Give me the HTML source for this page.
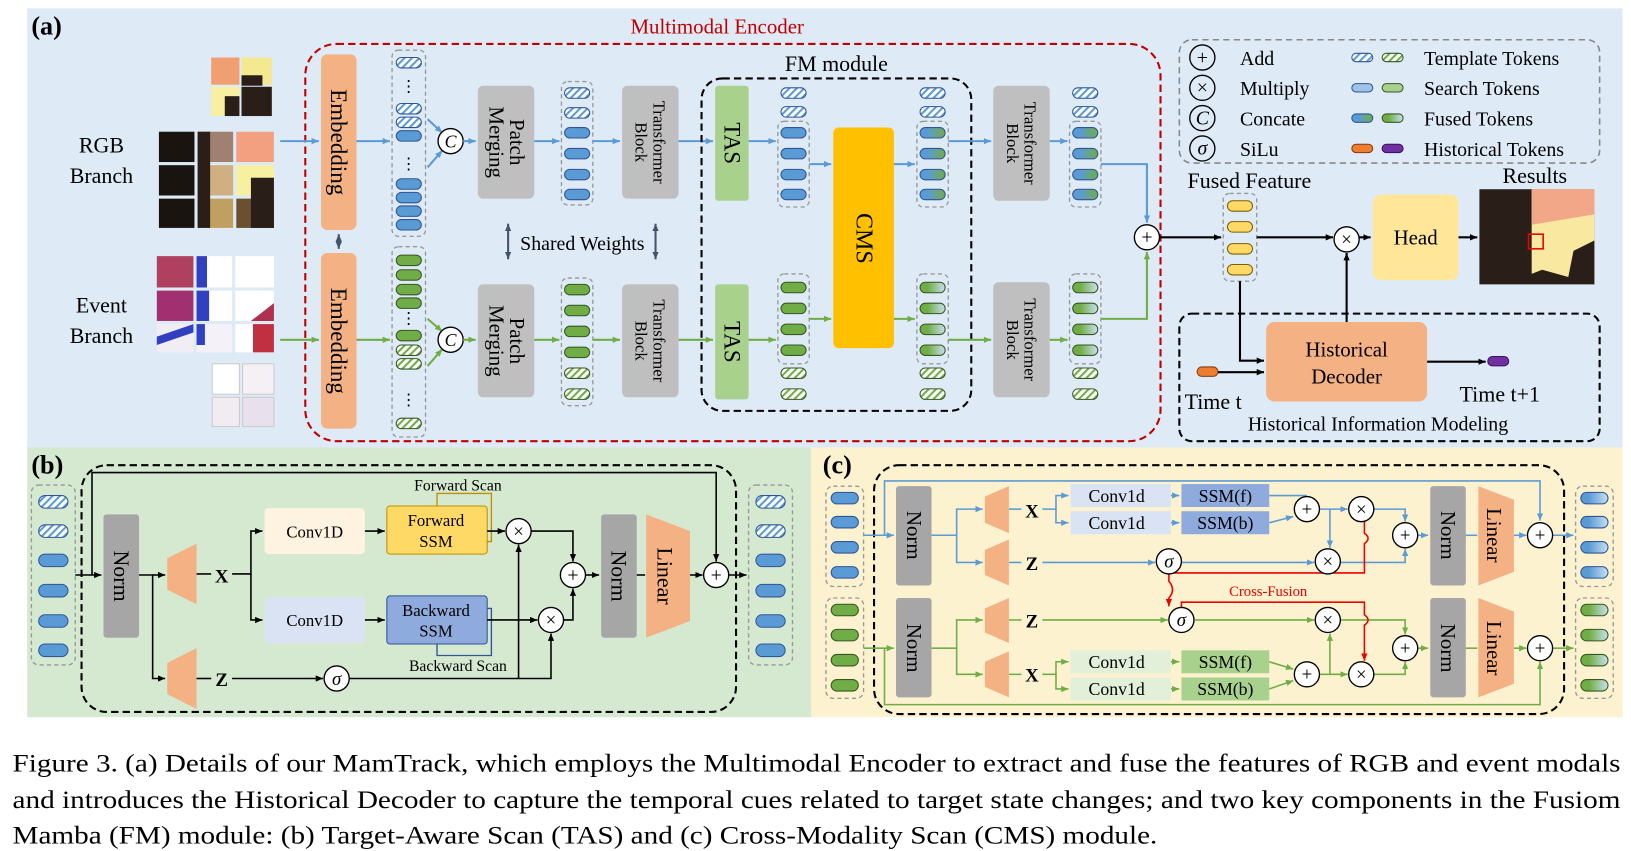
<!DOCTYPE html>
<html><head><meta charset="utf-8"><style>
html,body{margin:0;padding:0;background:#fff;}
svg{display:block;}
text{font-family:"Liberation Serif",serif;fill:#000;}
</style></head><body>
<svg width="1631" height="851" viewBox="0 0 1560 814" preserveAspectRatio="none" xmlns="http://www.w3.org/2000/svg">
<defs>
<pattern id="hb" width="5" height="5" patternUnits="userSpaceOnUse" patternTransform="rotate(45)"><rect width="5" height="5" fill="#fff"/><rect width="2" height="5" fill="#5b9bd5"/></pattern>
<pattern id="hg" width="5" height="5" patternUnits="userSpaceOnUse" patternTransform="rotate(45)"><rect width="5" height="5" fill="#fff"/><rect width="2" height="5" fill="#70ad47"/></pattern>
<linearGradient id="gbg"><stop offset="0.3" stop-color="#5b9bd5"/><stop offset="1" stop-color="#70ad47"/></linearGradient>
<linearGradient id="ggb"><stop offset="0.3" stop-color="#70ad47"/><stop offset="1" stop-color="#c9e0f0"/></linearGradient>
<linearGradient id="gbb"><stop offset="0.3" stop-color="#5b9bd5"/><stop offset="1" stop-color="#c9e0f0"/></linearGradient>
<symbol id="tb" overflow="visible"><rect width="24" height="10" rx="5" fill="#5b9bd5" stroke="#2f5597" stroke-width="1"/></symbol>
<symbol id="tg" overflow="visible"><rect width="24" height="10" rx="5" fill="#70ad47" stroke="#385723" stroke-width="1"/></symbol>
<symbol id="thb" overflow="visible"><rect width="24" height="10" rx="5" fill="url(#hb)" stroke="#2f5597" stroke-width="1"/></symbol>
<symbol id="thg" overflow="visible"><rect width="24" height="10" rx="5" fill="url(#hg)" stroke="#385723" stroke-width="1"/></symbol>
<symbol id="ty" overflow="visible"><rect width="24" height="10" rx="5" fill="#ffd966" stroke="#7f6000" stroke-width="1"/></symbol>
<symbol id="tbg" overflow="visible"><rect width="24" height="10" rx="5" fill="url(#gbg)" stroke="#2f5597" stroke-width="1"/></symbol>
<symbol id="tgb" overflow="visible"><rect width="24" height="10" rx="5" fill="url(#ggb)" stroke="#385723" stroke-width="1"/></symbol>
<symbol id="tbb" overflow="visible"><rect width="24" height="10" rx="5" fill="url(#gbb)" stroke="#2f5597" stroke-width="1"/></symbol>
<marker id="ab" markerWidth="8" markerHeight="8" refX="7" refY="4" orient="auto" markerUnits="userSpaceOnUse"><path d="M0,1 L7,4 L0,7z" fill="#5b9bd5"/></marker>
<marker id="ag" markerWidth="8" markerHeight="8" refX="7" refY="4" orient="auto" markerUnits="userSpaceOnUse"><path d="M0,1 L7,4 L0,7z" fill="#70ad47"/></marker>
<marker id="ak" markerWidth="8" markerHeight="8" refX="7" refY="4" orient="auto" markerUnits="userSpaceOnUse"><path d="M0,1 L7,4 L0,7z" fill="#000"/></marker>
<marker id="ar" markerWidth="8" markerHeight="8" refX="7" refY="4" orient="auto" markerUnits="userSpaceOnUse"><path d="M0,1 L7,4 L0,7z" fill="#e00"/></marker>
<marker id="as" markerWidth="8" markerHeight="8" refX="7" refY="4" orient="auto-start-reverse" markerUnits="userSpaceOnUse"><path d="M0,1 L7,4 L0,7z" fill="#44546a"/></marker>
</defs>

<!-- backgrounds -->
<rect x="26" y="8" width="1526" height="420" fill="#deeaf6"/>
<rect x="26" y="428" width="750" height="258" fill="#d5e8d0"/>
<rect x="776" y="428" width="776" height="258" fill="#fdf2cf"/>

<!-- ============ (a) ============ -->
<text x="30" y="33" font-size="25" font-weight="bold">(a)</text>
<text x="97" y="146" font-size="21" text-anchor="middle">RGB</text>
<text x="97" y="175" font-size="21" text-anchor="middle">Branch</text>
<text x="97" y="299" font-size="21" text-anchor="middle">Event</text>
<text x="97" y="328" font-size="21" text-anchor="middle">Branch</text>

<!-- RGB images -->
<g>
<rect x="202" y="55" width="27" height="26" fill="#f0a070"/><rect x="231" y="55" width="29" height="26" fill="#f4e890"/>
<rect x="202" y="83" width="27" height="28" fill="#f6f0a0"/><rect x="231" y="83" width="29" height="28" fill="#2a1e18"/>
<rect x="215" y="92" width="14" height="19" fill="#2a1e18"/><rect x="231" y="72" width="20" height="10" fill="#2a1e18"/>
<rect x="152" y="126" width="34" height="29" fill="#1a1410"/><rect x="189" y="126" width="34" height="29" fill="#a08070"/><rect x="226" y="126" width="36" height="29" fill="#f2a080"/>
<rect x="152" y="158" width="34" height="29" fill="#1a1410"/><rect x="189" y="158" width="34" height="29" fill="#d0b080"/><rect x="226" y="158" width="36" height="29" fill="#f6f0a0"/>
<rect x="152" y="190" width="34" height="28" fill="#1a1410"/><rect x="189" y="190" width="34" height="28" fill="#c0a060"/><rect x="226" y="190" width="36" height="28" fill="#6a5030"/>
<rect x="189" y="126" width="12" height="92" fill="#2a1e18"/><rect x="240" y="170" width="22" height="48" fill="#2a1e18"/>
</g>
<!-- Event images -->
<g>
<rect x="150" y="245" width="35" height="30" fill="#b04060"/><rect x="188" y="245" width="34" height="30" fill="#fff"/><rect x="225" y="245" width="37" height="30" fill="#fff"/>
<rect x="188" y="245" width="10" height="30" fill="#3040c0"/>
<rect x="150" y="278" width="35" height="29" fill="#a03070"/><rect x="188" y="278" width="34" height="29" fill="#fff"/><rect x="225" y="278" width="37" height="29" fill="#fff"/>
<rect x="188" y="278" width="12" height="29" fill="#3040c0"/><path d="M240,307 L262,290 L262,307z" fill="#b03050"/>
<rect x="150" y="310" width="35" height="27" fill="#f0eef4"/><rect x="188" y="310" width="34" height="27" fill="#f4f2f8"/><rect x="225" y="310" width="37" height="27" fill="#fff"/>
<path d="M150,322 L185,310 L185,318 L150,330z" fill="#3040c0"/><rect x="188" y="310" width="8" height="20" fill="#3040c0"/><rect x="242" y="310" width="20" height="27" fill="#c03040"/>
<rect x="203" y="348" width="26" height="29" fill="#fff" stroke="#ccc"/><rect x="232" y="348" width="30" height="29" fill="#f4f0f4" stroke="#ccc"/>
<rect x="203" y="380" width="26" height="28" fill="#f0ecf2" stroke="#ccc"/><rect x="232" y="380" width="30" height="28" fill="#e8e0ec" stroke="#ccc"/>
</g>

<!-- Multimodal encoder frame -->
<rect x="292" y="42" width="818" height="380" rx="30" fill="none" stroke="#c00000" stroke-width="2" stroke-dasharray="7,4"/>
<text x="686" y="32" font-size="20" fill="#c00000" text-anchor="middle" style="fill:#c00000">Multimodal Encoder</text>

<!-- arrows into embedding -->
<line x1="268" y1="135" x2="305" y2="135" stroke="#5b9bd5" stroke-width="2" marker-end="url(#ab)"/>
<line x1="268" y1="325" x2="305" y2="325" stroke="#70ad47" stroke-width="2" marker-end="url(#ag)"/>
<!-- Embedding -->
<rect x="307" y="52" width="34" height="168" rx="6" fill="#f4b183"/>
<rect x="307" y="242" width="34" height="168" rx="6" fill="#f4b183"/>
<text transform="translate(324,136) rotate(90)" font-size="22" text-anchor="middle" dominant-baseline="central">Embedding</text>
<text transform="translate(324,326) rotate(90)" font-size="22" text-anchor="middle" dominant-baseline="central">Embedding</text>
<line x1="324" y1="224" x2="324" y2="238" stroke="#44546a" stroke-width="2" marker-start="url(#as)" marker-end="url(#as)"/>
<line x1="341" y1="135" x2="373" y2="135" stroke="#5b9bd5" stroke-width="2" marker-end="url(#ab)"/>
<line x1="341" y1="325" x2="373" y2="325" stroke="#70ad47" stroke-width="2" marker-end="url(#ag)"/>

<!-- token col 1 -->
<rect x="375" y="48" width="32" height="178" rx="6" fill="none" stroke="#999" stroke-width="1.3" stroke-dasharray="4,3"/>
<use href="#thb" x="379" y="55"/><text x="391" y="88" font-size="16" text-anchor="middle">⋮</text>
<use href="#thb" x="379" y="99"/><use href="#thb" x="379" y="112"/><use href="#tb" x="379" y="125"/>
<text x="391" y="162" font-size="16" text-anchor="middle">⋮</text>
<use href="#tb" x="379" y="171"/><use href="#tb" x="379" y="184"/><use href="#tb" x="379" y="197"/><use href="#tb" x="379" y="210"/>
<rect x="375" y="236" width="32" height="182" rx="6" fill="none" stroke="#999" stroke-width="1.3" stroke-dasharray="4,3"/>
<use href="#tg" x="379" y="244"/><use href="#tg" x="379" y="258"/><use href="#tg" x="379" y="272"/><use href="#tg" x="379" y="285"/>
<text x="391" y="310" font-size="16" text-anchor="middle">⋮</text>
<use href="#tg" x="379" y="316"/><use href="#thg" x="379" y="330"/><use href="#thg" x="379" y="343"/>
<text x="391" y="388" font-size="16" text-anchor="middle">⋮</text>
<use href="#thg" x="379" y="400"/>

<!-- concat -->
<line x1="409" y1="114" x2="423" y2="127" stroke="#5b9bd5" stroke-width="2" marker-end="url(#ab)"/>
<line x1="409" y1="160" x2="423" y2="144" stroke="#5b9bd5" stroke-width="2" marker-end="url(#ab)"/>
<circle cx="431" cy="135" r="12" fill="#fff" stroke="#000" stroke-width="1.3"/><text x="431" y="141" font-size="17" font-style="italic" text-anchor="middle">C</text>
<line x1="409" y1="305" x2="423" y2="317" stroke="#70ad47" stroke-width="2" marker-end="url(#ag)"/>
<line x1="409" y1="350" x2="423" y2="334" stroke="#70ad47" stroke-width="2" marker-end="url(#ag)"/>
<circle cx="431" cy="325" r="12" fill="#fff" stroke="#000" stroke-width="1.3"/><text x="431" y="331" font-size="17" font-style="italic" text-anchor="middle">C</text>
<line x1="443" y1="135" x2="455" y2="135" stroke="#5b9bd5" stroke-width="2" marker-end="url(#ab)"/>
<line x1="443" y1="325" x2="455" y2="325" stroke="#70ad47" stroke-width="2" marker-end="url(#ag)"/>

<!-- Patch Merging -->
<rect x="457" y="82" width="54" height="108" rx="5" fill="#bfbfbf"/>
<rect x="457" y="272" width="54" height="108" rx="5" fill="#bfbfbf"/>
<text transform="translate(484,136) rotate(90)" font-size="20" text-anchor="middle"><tspan x="0" y="-4">Patch</tspan><tspan x="0" y="16">Merging</tspan></text>
<text transform="translate(484,326) rotate(90)" font-size="20" text-anchor="middle"><tspan x="0" y="-4">Patch</tspan><tspan x="0" y="16">Merging</tspan></text>
<line x1="511" y1="135" x2="535" y2="135" stroke="#5b9bd5" stroke-width="2" marker-end="url(#ab)"/>
<line x1="511" y1="325" x2="535" y2="325" stroke="#70ad47" stroke-width="2" marker-end="url(#ag)"/>

<!-- col 2 -->
<rect x="537" y="78" width="30" height="118" rx="6" fill="none" stroke="#999" stroke-width="1.3" stroke-dasharray="4,3"/>
<use href="#thb" x="540" y="84"/><use href="#thb" x="540" y="103"/><use href="#tb" x="540" y="122"/><use href="#tb" x="540" y="142"/><use href="#tb" x="540" y="162"/><use href="#tb" x="540" y="181"/>
<rect x="537" y="266" width="30" height="122" rx="6" fill="none" stroke="#999" stroke-width="1.3" stroke-dasharray="4,3"/>
<use href="#tg" x="540" y="272"/><use href="#tg" x="540" y="292"/><use href="#tg" x="540" y="312"/><use href="#tg" x="540" y="332"/><use href="#thg" x="540" y="352"/><use href="#thg" x="540" y="372"/>
<line x1="567" y1="135" x2="593" y2="135" stroke="#5b9bd5" stroke-width="2" marker-end="url(#ab)"/>
<line x1="567" y1="325" x2="593" y2="325" stroke="#70ad47" stroke-width="2" marker-end="url(#ag)"/>

<!-- Shared weights -->
<line x1="486" y1="214" x2="486" y2="248" stroke="#44546a" stroke-width="2" marker-start="url(#as)" marker-end="url(#as)"/>
<line x1="627" y1="214" x2="627" y2="248" stroke="#44546a" stroke-width="2" marker-start="url(#as)" marker-end="url(#as)"/>
<text x="557" y="239" font-size="19" text-anchor="middle">Shared Weights</text>

<!-- Transformer block -->
<rect x="595" y="82" width="54" height="108" rx="5" fill="#bfbfbf"/>
<rect x="595" y="272" width="54" height="108" rx="5" fill="#bfbfbf"/>
<text transform="translate(622,136) rotate(90)" font-size="16" text-anchor="middle"><tspan x="0" y="-3">Transformer</tspan><tspan x="0" y="14">Block</tspan></text>
<text transform="translate(622,326) rotate(90)" font-size="16" text-anchor="middle"><tspan x="0" y="-3">Transformer</tspan><tspan x="0" y="14">Block</tspan></text>
<line x1="649" y1="135" x2="682" y2="135" stroke="#5b9bd5" stroke-width="2" marker-end="url(#ab)"/>
<line x1="649" y1="325" x2="682" y2="325" stroke="#70ad47" stroke-width="2" marker-end="url(#ag)"/>

<!-- FM module -->
<rect x="671" y="75" width="258" height="318" rx="20" fill="none" stroke="#000" stroke-width="2" stroke-dasharray="7,4"/>
<text x="800" y="68" font-size="21" text-anchor="middle">FM module</text>
<rect x="684" y="82" width="32" height="110" rx="3" fill="#a9d18e"/>
<rect x="684" y="272" width="32" height="110" rx="3" fill="#a9d18e"/>
<text transform="translate(700,137) rotate(90)" font-size="22" text-anchor="middle" dominant-baseline="central">TAS</text>
<text transform="translate(700,327) rotate(90)" font-size="22" text-anchor="middle" dominant-baseline="central">TAS</text>
<line x1="716" y1="135" x2="742" y2="135" stroke="#5b9bd5" stroke-width="2" marker-end="url(#ab)"/>
<line x1="716" y1="325" x2="742" y2="325" stroke="#70ad47" stroke-width="2" marker-end="url(#ag)"/>

<use href="#thb" x="747" y="84"/><use href="#thb" x="747" y="102"/>
<rect x="744" y="116" width="30" height="82" rx="6" fill="none" stroke="#999" stroke-width="1.3" stroke-dasharray="4,3"/>
<use href="#tb" x="747" y="122"/><use href="#tb" x="747" y="142"/><use href="#tb" x="747" y="162"/><use href="#tb" x="747" y="181"/>
<rect x="744" y="262" width="30" height="86" rx="6" fill="none" stroke="#999" stroke-width="1.3" stroke-dasharray="4,3"/>
<use href="#tg" x="747" y="270"/><use href="#tg" x="747" y="290"/><use href="#tg" x="747" y="310"/><use href="#tg" x="747" y="330"/>
<use href="#thg" x="747" y="352"/><use href="#thg" x="747" y="372"/>
<line x1="774" y1="157" x2="795" y2="157" stroke="#5b9bd5" stroke-width="2" marker-end="url(#ab)"/>
<line x1="774" y1="305" x2="795" y2="305" stroke="#70ad47" stroke-width="2" marker-end="url(#ag)"/>

<rect x="797" y="122" width="58" height="211" rx="5" fill="#ffc000"/>
<text transform="translate(826,228) rotate(90)" font-size="23" text-anchor="middle" dominant-baseline="central">CMS</text>
<line x1="855" y1="157" x2="875" y2="157" stroke="#5b9bd5" stroke-width="2" marker-end="url(#ab)"/>
<line x1="855" y1="305" x2="875" y2="305" stroke="#70ad47" stroke-width="2" marker-end="url(#ag)"/>

<use href="#thb" x="880" y="84"/><use href="#thb" x="880" y="102"/>
<rect x="877" y="116" width="30" height="82" rx="6" fill="none" stroke="#999" stroke-width="1.3" stroke-dasharray="4,3"/>
<use href="#tbg" x="880" y="122"/><use href="#tbg" x="880" y="142"/><use href="#tbg" x="880" y="162"/><use href="#tbg" x="880" y="181"/>
<rect x="877" y="262" width="30" height="86" rx="6" fill="none" stroke="#999" stroke-width="1.3" stroke-dasharray="4,3"/>
<use href="#tgb" x="880" y="270"/><use href="#tgb" x="880" y="290"/><use href="#tgb" x="880" y="310"/><use href="#tgb" x="880" y="330"/>
<use href="#thg" x="880" y="352"/><use href="#thg" x="880" y="372"/>
<line x1="907" y1="135" x2="948" y2="135" stroke="#5b9bd5" stroke-width="2" marker-end="url(#ab)"/>
<line x1="907" y1="325" x2="948" y2="325" stroke="#70ad47" stroke-width="2" marker-end="url(#ag)"/>

<rect x="950" y="82" width="54" height="110" rx="5" fill="#bfbfbf"/>
<rect x="950" y="270" width="54" height="110" rx="5" fill="#bfbfbf"/>
<text transform="translate(977,137) rotate(90)" font-size="16" text-anchor="middle"><tspan x="0" y="-3">Transformer</tspan><tspan x="0" y="14">Block</tspan></text>
<text transform="translate(977,325) rotate(90)" font-size="16" text-anchor="middle"><tspan x="0" y="-3">Transformer</tspan><tspan x="0" y="14">Block</tspan></text>
<line x1="1004" y1="135" x2="1021" y2="135" stroke="#5b9bd5" stroke-width="2" marker-end="url(#ab)"/>
<line x1="1004" y1="325" x2="1021" y2="325" stroke="#70ad47" stroke-width="2" marker-end="url(#ag)"/>

<use href="#thb" x="1026" y="84"/><use href="#thb" x="1026" y="102"/>
<rect x="1023" y="116" width="30" height="82" rx="6" fill="none" stroke="#999" stroke-width="1.3" stroke-dasharray="4,3"/>
<use href="#tbg" x="1026" y="122"/><use href="#tbg" x="1026" y="142"/><use href="#tbg" x="1026" y="162"/><use href="#tbg" x="1026" y="181"/>
<rect x="1023" y="262" width="30" height="86" rx="6" fill="none" stroke="#999" stroke-width="1.3" stroke-dasharray="4,3"/>
<use href="#tgb" x="1026" y="270"/><use href="#tgb" x="1026" y="290"/><use href="#tgb" x="1026" y="310"/><use href="#tgb" x="1026" y="330"/>
<use href="#thg" x="1026" y="352"/><use href="#thg" x="1026" y="372"/>

<polyline points="1053,157 1097,157 1097,213" fill="none" stroke="#5b9bd5" stroke-width="2" marker-end="url(#ab)"/>
<polyline points="1053,305 1097,305 1097,241" fill="none" stroke="#70ad47" stroke-width="2" marker-end="url(#ag)"/>
<circle cx="1097" cy="227" r="12" fill="#fff" stroke="#000" stroke-width="1.3"/><text x="1097" y="233" font-size="19" text-anchor="middle">+</text>

<!-- legend -->
<rect x="1128" y="38" width="402" height="118" rx="12" fill="none" stroke="#888" stroke-width="1.5" stroke-dasharray="6,4"/>
<g font-size="19">
<circle cx="1150" cy="55" r="12" fill="none" stroke="#000" stroke-width="1.3"/><text x="1150" y="61" text-anchor="middle">+</text><text x="1186" y="62">Add</text>
<circle cx="1150" cy="84" r="12" fill="none" stroke="#000" stroke-width="1.3"/><text x="1150" y="90" text-anchor="middle">×</text><text x="1186" y="91">Multiply</text>
<circle cx="1150" cy="113" r="12" fill="none" stroke="#000" stroke-width="1.3"/><text x="1150" y="119" font-style="italic" text-anchor="middle">C</text><text x="1186" y="120">Concate</text>
<circle cx="1150" cy="142" r="12" fill="none" stroke="#000" stroke-width="1.3"/><text x="1150" y="148" font-style="italic" text-anchor="middle">σ</text><text x="1186" y="149">SiLu</text>
<text x="1362" y="62">Template Tokens</text><text x="1362" y="91">Search Tokens</text><text x="1362" y="120">Fused Tokens</text><text x="1362" y="149">Historical Tokens</text>
</g>
<rect x="1293" y="51" width="20" height="8" rx="4" fill="url(#hb)" stroke="#2f5597"/><rect x="1322" y="51" width="20" height="8" rx="4" fill="url(#hg)" stroke="#385723"/>
<rect x="1293" y="80" width="20" height="8" rx="4" fill="#9dc3e6" stroke="#2f5597"/><rect x="1322" y="80" width="20" height="8" rx="4" fill="#a9d18e" stroke="#385723"/>
<rect x="1293" y="109" width="20" height="8" rx="4" fill="url(#gbg)" stroke="#2f5597"/><rect x="1322" y="109" width="20" height="8" rx="4" fill="url(#ggb)" stroke="#385723"/>
<rect x="1293" y="138" width="20" height="8" rx="4" fill="#ed7d31" stroke="#843c0c"/><rect x="1322" y="138" width="20" height="8" rx="4" fill="#7030a0" stroke="#3a1060"/>

<!-- fused feature / head -->
<text x="1195" y="180" font-size="21" text-anchor="middle">Fused Feature</text>
<line x1="1109" y1="227" x2="1168" y2="227" stroke="#000" stroke-width="2" marker-end="url(#ak)"/>
<rect x="1170" y="185" width="32" height="84" rx="6" fill="none" stroke="#999" stroke-width="1.3" stroke-dasharray="4,3"/>
<use href="#ty" x="1174" y="192"/><use href="#ty" x="1174" y="212"/><use href="#ty" x="1174" y="233"/><use href="#ty" x="1174" y="253"/>
<line x1="1202" y1="227" x2="1275" y2="227" stroke="#000" stroke-width="2" marker-end="url(#ak)"/>
<circle cx="1288" cy="229" r="12" fill="#fff" stroke="#000" stroke-width="1.3"/><text x="1288" y="235" font-size="18" text-anchor="middle">×</text>
<line x1="1300" y1="227" x2="1311" y2="227" stroke="#000" stroke-width="2" marker-end="url(#ak)"/>
<rect x="1313" y="186" width="82" height="82" rx="8" fill="#ffe699"/>
<text x="1354" y="234" font-size="20" text-anchor="middle">Head</text>
<line x1="1395" y1="227" x2="1413" y2="227" stroke="#000" stroke-width="2" marker-end="url(#ak)"/>
<text x="1468" y="175" font-size="21" text-anchor="middle">Results</text>
<rect x="1415" y="181" width="110" height="91" fill="#2a1e18"/>
<path d="M1465,181 L1525,181 L1525,230 L1505,240 L1500,265 L1475,258 L1465,262z" fill="#f8e8a0"/>
<path d="M1465,181 L1525,181 L1525,205 L1465,215z" fill="#f2a888"/>
<rect x="1462" y="224" width="14" height="14" fill="none" stroke="#e00" stroke-width="1.5"/>

<!-- historical -->
<rect x="1128" y="300" width="402" height="122" rx="12" fill="none" stroke="#000" stroke-width="2" stroke-dasharray="7,4"/>
<polyline points="1186,269 1186,345 1209,345" fill="none" stroke="#000" stroke-width="2" marker-end="url(#ak)"/>
<line x1="1288" y1="308" x2="1288" y2="242" stroke="#000" stroke-width="2" marker-end="url(#ak)"/>
<rect x="1211" y="308" width="154" height="76" rx="8" fill="#f4b183"/>
<text x="1288" y="341" font-size="20" text-anchor="middle">Historical</text>
<text x="1288" y="367" font-size="20" text-anchor="middle">Decoder</text>
<rect x="1145" y="351" width="20" height="9" rx="4.5" fill="#ed7d31" stroke="#843c0c"/>
<line x1="1165" y1="356" x2="1209" y2="356" stroke="#000" stroke-width="2" marker-end="url(#ak)"/>
<line x1="1365" y1="346" x2="1421" y2="346" stroke="#000" stroke-width="2" marker-end="url(#ak)"/>
<rect x="1423" y="341" width="20" height="9" rx="4.5" fill="#7030a0" stroke="#3a1060"/>
<text x="1133" y="391" font-size="21">Time t</text>
<text x="1396" y="384" font-size="21">Time t+1</text>
<text x="1318" y="412" font-size="19" text-anchor="middle">Historical Information Modeling</text>

<!-- ============ (b) ============ -->
<text x="30" y="453" font-size="25" font-weight="bold">(b)</text>
<rect x="30" y="464" width="42" height="172" rx="7" fill="none" stroke="#999" stroke-width="1.3" stroke-dasharray="4,3"/>
<g transform="translate(0,0)">
<rect x="37" y="474" width="28" height="12" rx="6" fill="url(#hb)" stroke="#2f5597"/>
<rect x="37" y="502" width="28" height="12" rx="6" fill="url(#hb)" stroke="#2f5597"/>
<rect x="37" y="530" width="28" height="12" rx="6" fill="#5b9bd5" stroke="#2f5597"/>
<rect x="37" y="559" width="28" height="12" rx="6" fill="#5b9bd5" stroke="#2f5597"/>
<rect x="37" y="588" width="28" height="12" rx="6" fill="#5b9bd5" stroke="#2f5597"/>
<rect x="37" y="616" width="28" height="12" rx="6" fill="#5b9bd5" stroke="#2f5597"/>
</g>
<rect x="78" y="445" width="626" height="236" rx="24" fill="none" stroke="#000" stroke-width="2" stroke-dasharray="7,4"/>
<line x1="72" y1="550" x2="97" y2="550" stroke="#000" stroke-width="1.5" marker-end="url(#ak)"/>
<polyline points="88,550 88,452 685,452 685,537" fill="none" stroke="#000" stroke-width="1.5" marker-end="url(#ak)"/>
<rect x="99" y="492" width="34" height="118" rx="3" fill="#a6a6a6"/>
<text transform="translate(116,551) rotate(90)" font-size="21" text-anchor="middle" dominant-baseline="central">Norm</text>
<polyline points="133,550 146,550 146,649 158,649" fill="none" stroke="#000" stroke-width="1.5" marker-end="url(#ak)"/>
<line x1="146" y1="550" x2="158" y2="550" stroke="#000" stroke-width="1.5" marker-end="url(#ak)"/>
<path d="M160,534 L188,520 L188,578 L160,564z" fill="#f4b183"/>
<path d="M160,634 L188,620 L188,678 L160,664z" fill="#f4b183"/>
<text x="212" y="557" font-size="18" font-weight="bold" text-anchor="middle">X</text>
<text x="212" y="656" font-size="18" font-weight="bold" text-anchor="middle">Z</text>
<line x1="188" y1="549" x2="202" y2="549" stroke="#000" stroke-width="1.5"/>
<line x1="188" y1="649" x2="202" y2="649" stroke="#000" stroke-width="1.5"/>
<polyline points="222,549 240,549 240,508 251,508" fill="none" stroke="#000" stroke-width="1.5" marker-end="url(#ak)"/>
<polyline points="240,549 240,593 251,593" fill="none" stroke="#000" stroke-width="1.5" marker-end="url(#ak)"/>
<rect x="253" y="486" width="96" height="44" rx="4" fill="#fdf3e0"/>
<text x="301" y="514" font-size="16" text-anchor="middle">Conv1D</text>
<rect x="253" y="571" width="96" height="44" rx="4" fill="#dae3f3"/>
<text x="301" y="599" font-size="16" text-anchor="middle">Conv1D</text>
<line x1="349" y1="508" x2="368" y2="508" stroke="#000" stroke-width="1.5" marker-end="url(#ak)"/>
<line x1="349" y1="593" x2="368" y2="593" stroke="#000" stroke-width="1.5" marker-end="url(#ak)"/>
<rect x="370" y="484" width="96" height="46" rx="3" fill="#ffd966" stroke="#bf9000" stroke-width="1"/>
<text x="417" y="503" font-size="16" text-anchor="middle">Forward</text><text x="417" y="523" font-size="16" text-anchor="middle">SSM</text>
<rect x="370" y="570" width="96" height="46" rx="3" fill="#8faadc" stroke="#2f5597" stroke-width="1"/>
<text x="417" y="589" font-size="16" text-anchor="middle">Backward</text><text x="417" y="609" font-size="16" text-anchor="middle">SSM</text>
<polyline points="418,484 418,472 470,472 470,518 466,518" fill="none" stroke="#bf9000" stroke-width="1.3"/>
<polyline points="418,616 418,627 470,627 470,582 466,582" fill="none" stroke="#2f5597" stroke-width="1.3"/>
<text x="438" y="469" font-size="15" text-anchor="middle">Forward Scan</text>
<text x="438" y="642" font-size="15" text-anchor="middle">Backward Scan</text>
<line x1="466" y1="508" x2="483" y2="508" stroke="#000" stroke-width="1.5" marker-end="url(#ak)"/>
<line x1="466" y1="593" x2="514" y2="593" stroke="#000" stroke-width="1.5" marker-end="url(#ak)"/>
<circle cx="322" cy="649" r="12" fill="#fff" stroke="#000" stroke-width="1.3"/><text x="322" y="655" font-size="18" font-style="italic" text-anchor="middle">σ</text>
<line x1="222" y1="649" x2="309" y2="649" stroke="#000" stroke-width="1.5" marker-end="url(#ak)"/>
<polyline points="334,649 527,649 527,606" fill="none" stroke="#000" stroke-width="1.5" marker-end="url(#ak)"/>
<line x1="496" y1="649" x2="496" y2="521" stroke="#000" stroke-width="1.5" marker-end="url(#ak)"/>
<circle cx="496" cy="508" r="12" fill="#fff" stroke="#000" stroke-width="1.3"/><text x="496" y="514" font-size="18" text-anchor="middle">×</text>
<circle cx="527" cy="593" r="12" fill="#fff" stroke="#000" stroke-width="1.3"/><text x="527" y="599" font-size="18" text-anchor="middle">×</text>
<polyline points="508,508 548,508 548,537" fill="none" stroke="#000" stroke-width="1.5" marker-end="url(#ak)"/>
<polyline points="539,593 548,593 548,563" fill="none" stroke="#000" stroke-width="1.5" marker-end="url(#ak)"/>
<circle cx="548" cy="550" r="12" fill="#fff" stroke="#000" stroke-width="1.3"/><text x="548" y="556" font-size="19" text-anchor="middle">+</text>
<line x1="560" y1="550" x2="573" y2="550" stroke="#000" stroke-width="1.5" marker-end="url(#ak)"/>
<rect x="575" y="492" width="34" height="118" rx="3" fill="#a6a6a6"/>
<text transform="translate(592,551) rotate(90)" font-size="21" text-anchor="middle" dominant-baseline="central">Norm</text>
<line x1="609" y1="550" x2="617" y2="550" stroke="#000" stroke-width="1.5"/>
<path d="M618,492 L660,508 L660,594 L618,610z" fill="#f4b183"/>
<text transform="translate(636,551) rotate(90)" font-size="21" text-anchor="middle" dominant-baseline="central">Linear</text>
<line x1="660" y1="550" x2="672" y2="550" stroke="#000" stroke-width="1.5" marker-end="url(#ak)"/>
<circle cx="685" cy="550" r="12" fill="#fff" stroke="#000" stroke-width="1.3"/><text x="685" y="556" font-size="19" text-anchor="middle">+</text>
<line x1="697" y1="550" x2="714" y2="550" stroke="#000" stroke-width="1.5" marker-end="url(#ak)"/>
<rect x="716" y="464" width="42" height="172" rx="7" fill="none" stroke="#999" stroke-width="1.3" stroke-dasharray="4,3"/>
<rect x="723" y="474" width="28" height="12" rx="6" fill="url(#hb)" stroke="#2f5597"/>
<rect x="723" y="502" width="28" height="12" rx="6" fill="url(#hb)" stroke="#2f5597"/>
<rect x="723" y="530" width="28" height="12" rx="6" fill="#5b9bd5" stroke="#2f5597"/>
<rect x="723" y="559" width="28" height="12" rx="6" fill="#5b9bd5" stroke="#2f5597"/>
<rect x="723" y="588" width="28" height="12" rx="6" fill="#5b9bd5" stroke="#2f5597"/>
<rect x="723" y="616" width="28" height="12" rx="6" fill="#5b9bd5" stroke="#2f5597"/>

<!-- ============ (c) ============ -->
<text x="787" y="453" font-size="25" font-weight="bold">(c)</text>
<rect x="790" y="465" width="36" height="96" rx="7" fill="none" stroke="#999" stroke-width="1.3" stroke-dasharray="4,3"/>
<rect x="795" y="471" width="26" height="11" rx="5.5" fill="#5b9bd5" stroke="#2f5597"/><rect x="795" y="494" width="26" height="11" rx="5.5" fill="#5b9bd5" stroke="#2f5597"/><rect x="795" y="518" width="26" height="11" rx="5.5" fill="#5b9bd5" stroke="#2f5597"/><rect x="795" y="542" width="26" height="11" rx="5.5" fill="#5b9bd5" stroke="#2f5597"/>
<rect x="790" y="572" width="36" height="96" rx="7" fill="none" stroke="#999" stroke-width="1.3" stroke-dasharray="4,3"/>
<rect x="795" y="578" width="26" height="11" rx="5.5" fill="#70ad47" stroke="#385723"/><rect x="795" y="602" width="26" height="11" rx="5.5" fill="#70ad47" stroke="#385723"/><rect x="795" y="626" width="26" height="11" rx="5.5" fill="#70ad47" stroke="#385723"/><rect x="795" y="650" width="26" height="11" rx="5.5" fill="#70ad47" stroke="#385723"/>
<rect x="1507" y="465" width="36" height="96" rx="7" fill="none" stroke="#999" stroke-width="1.3" stroke-dasharray="4,3"/>
<rect x="1512" y="471" width="26" height="11" rx="5.5" fill="url(#gbb)" stroke="#2f5597"/><rect x="1512" y="494" width="26" height="11" rx="5.5" fill="url(#gbb)" stroke="#2f5597"/><rect x="1512" y="518" width="26" height="11" rx="5.5" fill="url(#gbb)" stroke="#2f5597"/><rect x="1512" y="542" width="26" height="11" rx="5.5" fill="url(#gbb)" stroke="#2f5597"/>
<rect x="1507" y="572" width="36" height="96" rx="7" fill="none" stroke="#999" stroke-width="1.3" stroke-dasharray="4,3"/>
<rect x="1512" y="578" width="26" height="11" rx="5.5" fill="url(#ggb)" stroke="#385723"/><rect x="1512" y="602" width="26" height="11" rx="5.5" fill="url(#ggb)" stroke="#385723"/><rect x="1512" y="626" width="26" height="11" rx="5.5" fill="url(#ggb)" stroke="#385723"/><rect x="1512" y="650" width="26" height="11" rx="5.5" fill="url(#ggb)" stroke="#385723"/>
<rect x="836" y="445" width="660" height="238" rx="24" fill="none" stroke="#000" stroke-width="2" stroke-dasharray="7,4"/>

<!-- upper (blue) -->
<g stroke="#5b9bd5" stroke-width="1.5" fill="none">
<line x1="826" y1="512" x2="855" y2="512" marker-end="url(#ab)"/>
<polyline points="846,512 846,460 1473,460 1473,498" marker-end="url(#ab)"/>
<polyline points="891,512 915,512 915,487 940,487" marker-end="url(#ab)"/>
<polyline points="915,512 915,538 940,538" marker-end="url(#ab)"/>
<line x1="965" y1="487" x2="977" y2="487"/>
<polyline points="997,487 1010,487 1010,474 1022,474" marker-end="url(#ab)"/>
<polyline points="1010,487 1010,500 1022,500" marker-end="url(#ab)"/>
<line x1="1120" y1="474" x2="1128" y2="474" marker-end="url(#ab)"/>
<line x1="1120" y1="500" x2="1128" y2="500" marker-end="url(#ab)"/>
<polyline points="1214,474 1250,474" />
<line x1="1214" y1="500" x2="1237" y2="494" marker-end="url(#ab)"/>
<line x1="1262" y1="487" x2="1289" y2="487" marker-end="url(#ab)"/>
<line x1="1272" y1="487" x2="1272" y2="524" marker-end="url(#ab)"/>
<line x1="965" y1="538" x2="977" y2="538"/>
<line x1="997" y1="538" x2="1105" y2="538" marker-end="url(#ab)"/>
<line x1="1130" y1="538" x2="1257" y2="538" marker-end="url(#ab)"/>
<polyline points="1314,487 1344,487 1344,499" marker-end="url(#ab)"/>
<polyline points="1282,538 1344,538 1344,525" marker-end="url(#ab)"/>
<line x1="1356" y1="512" x2="1366" y2="512" marker-end="url(#ab)"/>
<line x1="1402" y1="512" x2="1413" y2="512"/>
<line x1="1448" y1="512" x2="1460" y2="512" marker-end="url(#ab)"/>
<line x1="1485" y1="512" x2="1505" y2="512" marker-end="url(#ab)"/>
</g>
<!-- lower (green) -->
<g stroke="#70ad47" stroke-width="1.5" fill="none">
<line x1="826" y1="620" x2="855" y2="620" marker-end="url(#ag)"/>
<polyline points="846,620 846,674 1473,674 1473,633" marker-end="url(#ag)"/>
<polyline points="891,620 915,620 915,593 940,593" marker-end="url(#ag)"/>
<polyline points="915,620 915,645 940,645" marker-end="url(#ag)"/>
<line x1="965" y1="593" x2="977" y2="593"/>
<line x1="997" y1="593" x2="1117" y2="593" marker-end="url(#ag)"/>
<line x1="1143" y1="593" x2="1257" y2="593" marker-end="url(#ag)"/>
<line x1="965" y1="645" x2="977" y2="645"/>
<polyline points="997,645 1010,645 1010,633 1022,633" marker-end="url(#ag)"/>
<polyline points="1010,645 1010,659 1022,659" marker-end="url(#ag)"/>
<line x1="1120" y1="633" x2="1128" y2="633" marker-end="url(#ag)"/>
<line x1="1120" y1="659" x2="1128" y2="659" marker-end="url(#ag)"/>
<line x1="1214" y1="633" x2="1237" y2="640" marker-end="url(#ag)"/>
<line x1="1214" y1="659" x2="1237" y2="651" marker-end="url(#ag)"/>
<line x1="1262" y1="645" x2="1289" y2="645" marker-end="url(#ag)"/>
<line x1="1272" y1="645" x2="1272" y2="606" marker-end="url(#ag)"/>
<polyline points="1282,593 1344,593 1344,607" marker-end="url(#ag)"/>
<polyline points="1314,645 1344,645 1344,633" marker-end="url(#ag)"/>
<line x1="1356" y1="620" x2="1366" y2="620" marker-end="url(#ag)"/>
<line x1="1402" y1="620" x2="1413" y2="620"/>
<line x1="1448" y1="620" x2="1460" y2="620" marker-end="url(#ag)"/>
<line x1="1485" y1="620" x2="1505" y2="620" marker-end="url(#ag)"/>
</g>
<!-- red cross fusion -->
<g stroke="#e00" stroke-width="1.5" fill="none">
<path d="M1305,499 L1305,510 Q1312,515 1305,520 L1305,548 L1118,548 L1118,556 Q1125,564 1118,572 L1118,580" marker-end="url(#ar)"/>
<path d="M1130,581 L1130,576 L1305,576 L1305,588 Q1312,593 1305,598 L1305,632" marker-end="url(#ar)"/>
</g>
<text x="1213" y="570" font-size="14" text-anchor="middle" style="fill:#e00">Cross-Fusion</text>

<!-- blocks (c) -->
<rect x="857" y="465" width="34" height="95" rx="3" fill="#a6a6a6"/>
<rect x="857" y="572" width="34" height="95" rx="3" fill="#a6a6a6"/>
<text transform="translate(874,512) rotate(90)" font-size="20" text-anchor="middle" dominant-baseline="central">Norm</text>
<text transform="translate(874,620) rotate(90)" font-size="20" text-anchor="middle" dominant-baseline="central">Norm</text>
<path d="M942,475 L965,465 L965,510 L942,500z" fill="#f4b183"/>
<path d="M942,526 L965,516 L965,560 L942,550z" fill="#f4b183"/>
<path d="M942,582 L965,572 L965,615 L942,605z" fill="#f4b183"/>
<path d="M942,633 L965,623 L965,667 L942,657z" fill="#f4b183"/>
<text x="987" y="495" font-size="18" font-weight="bold" text-anchor="middle">X</text>
<text x="987" y="545" font-size="18" font-weight="bold" text-anchor="middle">Z</text>
<text x="987" y="600" font-size="18" font-weight="bold" text-anchor="middle">Z</text>
<text x="987" y="652" font-size="18" font-weight="bold" text-anchor="middle">X</text>
<rect x="1024" y="463" width="96" height="22" fill="#dae3f3"/><text x="1068" y="480" font-size="17" text-anchor="middle">Conv1d</text>
<rect x="1024" y="489" width="96" height="22" fill="#dae3f3"/><text x="1068" y="506" font-size="17" text-anchor="middle">Conv1d</text>
<rect x="1130" y="463" width="84" height="22" fill="#8faadc"/><text x="1172" y="480" font-size="17" text-anchor="middle">SSM(f)</text>
<rect x="1130" y="489" width="84" height="22" fill="#8faadc"/><text x="1172" y="506" font-size="17" text-anchor="middle">SSM(b)</text>
<rect x="1024" y="622" width="96" height="22" fill="#e2f0d9"/><text x="1068" y="639" font-size="17" text-anchor="middle">Conv1d</text>
<rect x="1024" y="648" width="96" height="22" fill="#e2f0d9"/><text x="1068" y="665" font-size="17" text-anchor="middle">Conv1d</text>
<rect x="1130" y="622" width="84" height="22" fill="#a9d18e"/><text x="1172" y="639" font-size="17" text-anchor="middle">SSM(f)</text>
<rect x="1130" y="648" width="84" height="22" fill="#a9d18e"/><text x="1172" y="665" font-size="17" text-anchor="middle">SSM(b)</text>
<g stroke="#000" stroke-width="1.3" fill="#fff">
<circle cx="1250" cy="487" r="12"/><circle cx="1302" cy="487" r="12"/><circle cx="1270" cy="537" r="12"/><circle cx="1118" cy="537" r="12"/><circle cx="1344" cy="512" r="12"/><circle cx="1473" cy="512" r="12"/>
<circle cx="1130" cy="593" r="12"/><circle cx="1270" cy="593" r="12"/><circle cx="1302" cy="645" r="12"/><circle cx="1250" cy="645" r="12"/><circle cx="1344" cy="620" r="12"/><circle cx="1473" cy="620" r="12"/>
</g>
<g font-size="18" text-anchor="middle">
<text x="1250" y="493">+</text><text x="1302" y="493">×</text><text x="1270" y="543">×</text><text x="1118" y="543" font-style="italic">σ</text><text x="1344" y="518">+</text><text x="1473" y="518">+</text>
<text x="1130" y="599" font-style="italic">σ</text><text x="1270" y="599">×</text><text x="1302" y="651">×</text><text x="1250" y="651">+</text><text x="1344" y="626">+</text><text x="1473" y="626">+</text>
</g>
<rect x="1368" y="465" width="34" height="95" rx="3" fill="#a6a6a6"/>
<rect x="1368" y="572" width="34" height="95" rx="3" fill="#a6a6a6"/>
<text transform="translate(1385,512) rotate(90)" font-size="20" text-anchor="middle" dominant-baseline="central">Norm</text>
<text transform="translate(1385,620) rotate(90)" font-size="20" text-anchor="middle" dominant-baseline="central">Norm</text>
<path d="M1414,465 L1448,478 L1448,547 L1414,560z" fill="#f4b183"/>
<path d="M1414,572 L1448,585 L1448,654 L1414,667z" fill="#f4b183"/>
<text transform="translate(1429,512) rotate(90)" font-size="20" text-anchor="middle" dominant-baseline="central">Linear</text>
<text transform="translate(1429,620) rotate(90)" font-size="20" text-anchor="middle" dominant-baseline="central">Linear</text>

<!-- caption -->
<g font-size="24.5">
<text x="12" y="738" textLength="1538" lengthAdjust="spacingAndGlyphs">Figure 3. (a) Details of our MamTrack, which employs the Multimodal Encoder to extract and fuse the features of RGB and event modals</text>
<text x="12" y="773" textLength="1538" lengthAdjust="spacingAndGlyphs">and introduces the Historical Decoder to capture the temporal cues related to target state changes; and two key components in the Fusiom</text>
<text x="12" y="807" textLength="1095" lengthAdjust="spacingAndGlyphs">Mamba (FM) module: (b) Target-Aware Scan (TAS) and (c) Cross-Modality Scan (CMS) module.</text>
</g>
</svg>
</body></html>
